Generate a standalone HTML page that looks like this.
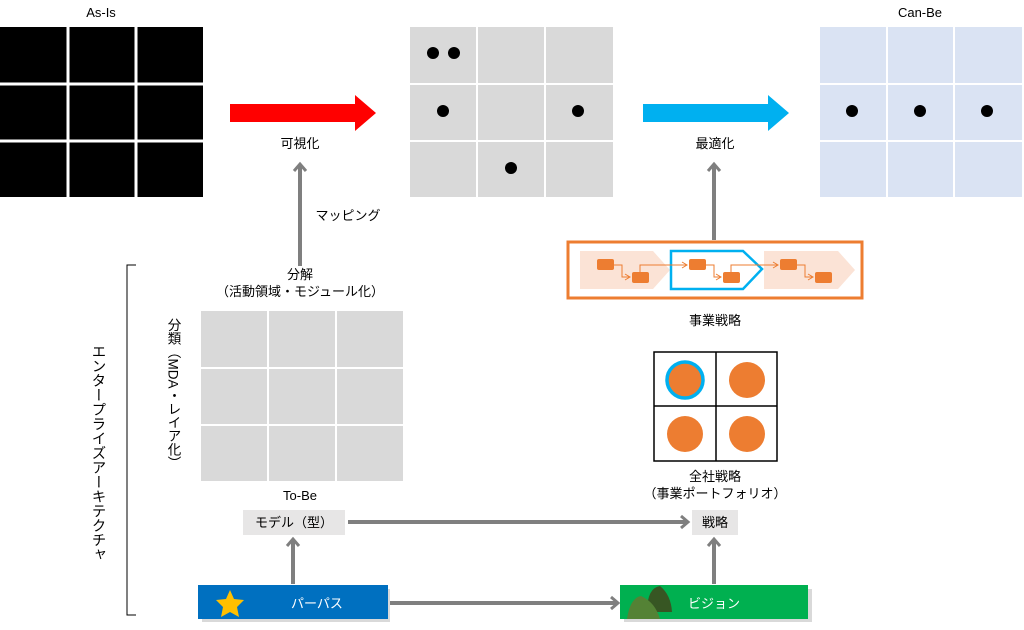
<!DOCTYPE html>
<html><head><meta charset="utf-8"><style>
body{margin:0;background:#fff;position:relative;width:1024px;height:630px;overflow:hidden}
svg{display:block;position:absolute;left:0;top:0}
text{font-family:"Liberation Sans","Noto Sans CJK JP",sans-serif;font-size:13px;fill:#000}
.v{position:absolute;writing-mode:vertical-rl;font-family:"Liberation Sans","Noto Sans CJK JP",sans-serif;font-size:14px;line-height:1;color:#000;white-space:nowrap}
</style></head><body>
<svg width="1024" height="630" viewBox="0 0 1024 630" xmlns="http://www.w3.org/2000/svg">
<defs>
<marker id="ah" markerWidth="14" markerHeight="16" refX="9" refY="8" orient="auto" markerUnits="userSpaceOnUse">
<path d="M2,2 L9,8 L2,14" fill="none" stroke="#7f7f7f" stroke-width="3"/></marker>
<marker id="oa" markerWidth="8" markerHeight="8" refX="6" refY="4" orient="auto" markerUnits="userSpaceOnUse">
<path d="M1,1 L6,4 L1,7" fill="none" stroke="#ed7d31" stroke-width="1"/></marker>
</defs>
<text x="101" y="17" text-anchor="middle">As-Is</text>
<rect x="0" y="27" width="203" height="170" fill="#000"/>
<g stroke="#fff" stroke-width="3"><line x1="68" y1="27" x2="68" y2="197"/><line x1="136" y1="27" x2="136" y2="197"/><line x1="0" y1="84" x2="203" y2="84"/><line x1="0" y1="141" x2="203" y2="141"/></g>
<rect x="410" y="27" width="203" height="170" fill="#d9d9d9"/>
<g stroke="#fff" stroke-width="2"><line x1="477" y1="27" x2="477" y2="197"/><line x1="545" y1="27" x2="545" y2="197"/><line x1="410" y1="84" x2="613" y2="84"/><line x1="410" y1="141" x2="613" y2="141"/></g>
<g fill="#000"><circle cx="433" cy="53" r="6"/><circle cx="454" cy="53" r="6"/><circle cx="443" cy="111" r="6"/><circle cx="578" cy="111" r="6"/><circle cx="511" cy="168" r="6"/></g>
<text x="920" y="17" text-anchor="middle">Can-Be</text>
<rect x="820" y="27" width="202" height="170" fill="#dae3f3"/>
<g stroke="#fff" stroke-width="2"><line x1="887" y1="27" x2="887" y2="197"/><line x1="954" y1="27" x2="954" y2="197"/><line x1="820" y1="84" x2="1022" y2="84"/><line x1="820" y1="141" x2="1022" y2="141"/></g>
<g fill="#000"><circle cx="852" cy="111" r="6"/><circle cx="920" cy="111" r="6"/><circle cx="987" cy="111" r="6"/></g>
<path d="M230,104 L355,104 L355,95 L376,113 L355,131 L355,122 L230,122Z" fill="#ff0000"/>
<path d="M643,104 L768,104 L768,95 L789,113 L768,131 L768,122 L643,122Z" fill="#00b0f0"/>
<text x="300" y="148" text-anchor="middle">可視化</text>
<text x="715" y="148" text-anchor="middle">最適化</text>
<line x1="300" y1="266" x2="300" y2="164" stroke="#7f7f7f" stroke-width="4" marker-end="url(#ah)"/>
<text x="348" y="220" text-anchor="middle">マッピング</text>
<text x="300" y="279" text-anchor="middle">分解</text>
<text x="300" y="296" text-anchor="middle">（活動領域・モジュール化）</text>
<rect x="201" y="311" width="202" height="170" fill="#d9d9d9"/>
<g stroke="#fff" stroke-width="2"><line x1="268" y1="311" x2="268" y2="481"/><line x1="336" y1="311" x2="336" y2="481"/><line x1="201" y1="368" x2="403" y2="368"/><line x1="201" y1="425" x2="403" y2="425"/></g>
<text x="300" y="500" text-anchor="middle">To-Be</text>
<path d="M136,265 L127,265 L127,615 L136,615" fill="none" stroke="#000" stroke-width="1"/>
<rect x="243" y="510" width="102" height="25" fill="#e7e6e6"/>
<text x="294" y="527" text-anchor="middle">モデル（型）</text>
<rect x="692" y="510" width="46" height="25" fill="#e7e6e6"/>
<text x="715" y="527" text-anchor="middle">戦略</text>
<line x1="348" y1="522" x2="688" y2="522" stroke="#7f7f7f" stroke-width="4" marker-end="url(#ah)"/>
<line x1="293" y1="584" x2="293" y2="539" stroke="#7f7f7f" stroke-width="4" marker-end="url(#ah)"/>
<line x1="714" y1="584" x2="714" y2="539" stroke="#7f7f7f" stroke-width="4" marker-end="url(#ah)"/>
<line x1="390" y1="603" x2="618" y2="603" stroke="#7f7f7f" stroke-width="4" marker-end="url(#ah)"/>
<rect x="200" y="587" width="188" height="33" fill="#000" opacity="0.15" transform="translate(2,2)"/>
<rect x="198" y="585" width="190" height="34" fill="#0070c0"/>
<path d="M230,590 L234,599 L244,600 L237,607 L239,617 L230,612 L221,617 L223,607 L216,600 L226,599Z" fill="#ffc000"/>
<text x="291" y="608" style="fill:#fff;font-size:13px">パーパス</text>
<rect x="622" y="587" width="188" height="33" fill="#000" opacity="0.15" transform="translate(2,2)"/>
<rect x="620" y="585" width="188" height="34" fill="#00b050"/>
<path d="M647,612 Q647,588 660,586 Q671,595 672,612Z" fill="#375623"/>
<path d="M627,619 Q630,598 641,596 Q655,602 660,619Z" fill="#548235"/>
<text x="688" y="608" style="fill:#fff;font-size:13px">ビジョン</text>
<line x1="714" y1="240" x2="714" y2="164" stroke="#7f7f7f" stroke-width="4" marker-end="url(#ah)"/>
<rect x="568" y="242" width="294" height="56" fill="#fff" stroke="#ed7d31" stroke-width="3"/>
<path d="M580,251 L653,251 L670,270 L653,289 L580,289Z" fill="#fbe3d6"/>
<path d="M764,251 L838,251 L855,270 L838,289 L764,289Z" fill="#fbe3d6"/>
<path d="M671,251 L743,251 L762,269 L743,289 L671,289Z" fill="#fff" stroke="#00b0f0" stroke-width="2.5"/>
<g fill="#ed7d31">
<rect x="597" y="259" width="17" height="11" rx="2"/><rect x="632" y="272" width="17" height="11" rx="2"/>
<rect x="689" y="259" width="17" height="11" rx="2"/><rect x="723" y="272" width="17" height="11" rx="2"/>
<rect x="780" y="259" width="17" height="11" rx="2"/><rect x="815" y="272" width="17" height="11" rx="2"/>
</g>
<g fill="none" stroke="#ed7d31" stroke-width="1">
<path d="M614,265 L622,265 L622,277 L630,277" marker-end="url(#oa)"/>
<path d="M640,272 L640,265 L687,265" marker-end="url(#oa)"/>
<path d="M706,265 L714,265 L714,277 L721,277" marker-end="url(#oa)"/>
<path d="M731,272 L731,265 L778,265" marker-end="url(#oa)"/>
<path d="M797,265 L805,265 L805,277 L813,277" marker-end="url(#oa)"/>
</g>
<text x="715" y="325" text-anchor="middle">事業戦略</text>
<rect x="654" y="352" width="123" height="109" fill="#fff" stroke="#000" stroke-width="1.5"/>
<line x1="716" y1="352" x2="716" y2="461" stroke="#000" stroke-width="1.5"/>
<line x1="654" y1="406" x2="777" y2="406" stroke="#000" stroke-width="1.5"/>
<circle cx="685" cy="380" r="18" fill="#ed7d31" stroke="#00b0f0" stroke-width="3.5"/>
<circle cx="747" cy="380" r="18" fill="#ed7d31"/>
<circle cx="685" cy="434" r="18" fill="#ed7d31"/>
<circle cx="747" cy="434" r="18" fill="#ed7d31"/>
<text x="715" y="481" text-anchor="middle">全社戦略</text>
<text x="715" y="498" text-anchor="middle">（事業ポートフォリオ）</text>
</svg>
<div class="v" style="left:90px;top:344px;font-size:14.5px">エンタープライズアーキテクチャ</div>
<div class="v" style="left:166px;top:318px;font-size:13.5px">分類（MDA・レイア化）</div>
</body></html>
